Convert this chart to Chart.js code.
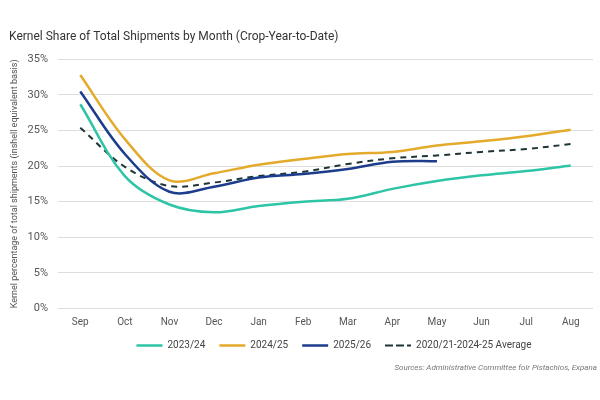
<!DOCTYPE html>
<html>
<head>
<meta charset="utf-8">
<script src="https://cdn.jsdelivr.net/npm/chart.js@4.4.1/dist/chart.umd.min.js"></script>
<style>
  html, body { margin: 0; padding: 0; background: #ffffff; }
  #wrap { width: 600px; height: 400px; position: relative; }
</style>
</head>
<body>
<div id="wrap"><canvas id="c" width="600" height="400"></canvas></div>
<script>
const months = ["Sep","Oct","Nov","Dec","Jan","Feb","Mar","Apr","May","Jun","Jul","Aug"];
const s2023 = [28.7, 18.6, 14.6, 13.5, 14.4, 15.0, 15.4, 16.8, 17.9, 18.7, 19.3, 20.1];
const s2024 = [32.8, 23.8, 18.0, 19.0, 20.2, 21.0, 21.7, 22.0, 22.9, 23.5, 24.2, 25.1];
const s2025 = [30.5, 21.7, 16.4, 17.1, 18.4, 18.9, 19.6, 20.6, 20.7, null, null, null];
const sAvg  = [25.4, 19.9, 17.2, 17.7, 18.6, 19.2, 20.3, 21.1, 21.5, 22.0, 22.4, 23.1];
const yTicks = [0, 5, 10, 15, 20, 25, 30, 35];

const FONT = "Roboto, 'Noto Sans', sans-serif";

// Place the legend and source line below the axis like the reference.
const placeBottom = {
  id: 'placeBottom',
  afterLayout(chart) {
    const lg = chart.legend;
    if (lg) {
      const dy = (chart.chartArea.bottom + 18) - lg.top;
      const dx = 33;
      lg.top += dy; lg.bottom += dy;
      lg.left += dx; lg.right += dx;
    }
    const st = chart.boxes.find(b => b.options && b.options.text && String(b.options.text).startsWith('Sources'));
    if (st) {
      const dy2 = (chart.chartArea.bottom + 51) - st.top;
      st.top += dy2; st.bottom += dy2;
      st.left += 4; st.right += 4;
    }
  }
};

new Chart(document.getElementById('c'), {
  type: 'line',
  data: {
    labels: months,
    datasets: [
      { label: '2023/24', data: s2023, borderColor: '#2ec4a6', backgroundColor: '#2ec4a6' },
      { label: '2024/25', data: s2024, borderColor: '#e3aa2b', backgroundColor: '#e3aa2b' },
      { label: '2025/26', data: s2025, borderColor: '#1c3d8c', backgroundColor: '#1c3d8c' },
      { label: '2020/21-2024-25 Average', data: sAvg, borderColor: '#1e3535', backgroundColor: '#1e3535', borderDash: [6, 5], borderWidth: 2 }
    ]
  },
  plugins: [placeBottom],
  options: {
    responsive: false,
    animation: false,
    devicePixelRatio: 1,
    elements: {
      line: { borderWidth: 2.5, tension: 0.35 },
      point: { radius: 0, hoverRadius: 0 }
    },
    layout: { padding: { left: 9, right: 7, top: 30, bottom: 16 } },
    plugins: {
      title: {
        display: true,
        text: 'Kernel Share of Total Shipments by Month (Crop-Year-to-Date)',
        align: 'start',
        color: '#333333',
        font: { family: FONT, size: 12, weight: 'normal' },
        padding: { top: 0, bottom: 15 }
      },
      subtitle: {
        display: true,
        position: 'bottom',
        align: 'end',
        text: 'Sources: Administrative Committee foir Pistachios, Expana',
        color: '#777777',
        font: { family: FONT, size: 8, style: 'italic' },
        padding: { top: 4, bottom: 0 }
      },
      legend: {
        position: 'bottom',
        labels: {
          color: '#444444',
          font: { family: FONT, size: 10 },
          boxWidth: 26,
          boxHeight: 0,
          padding: 14
        }
      },
      tooltip: { enabled: false }
    },
    scales: {
      x: {
        offset: true,
        grid: { display: false, drawTicks: false },
        border: { display: false },
        ticks: { color: '#555555', font: { family: FONT, size: 10 }, padding: 8 }
      },
      y: {
        min: 0,
        max: 35,
        afterBuildTicks: (axis) => { axis.ticks = yTicks.map(v => ({ value: v })); },
        afterFit: (axis) => { axis.width = 49; },
        grid: { color: '#dddddd', drawTicks: false, lineWidth: 1 },
        border: { display: false },
        ticks: { color: '#555555', font: { family: FONT, size: 11 }, padding: 10, callback: v => v + '%' },
        title: {
          display: true,
          text: 'Kernel percentage of total shipments (inshell equivalent basis)',
          color: '#555555',
          font: { family: FONT, size: 9 },
          padding: { top: 0, bottom: 7 }
        }
      }
    }
  }
});
</script>
</body>
</html>
